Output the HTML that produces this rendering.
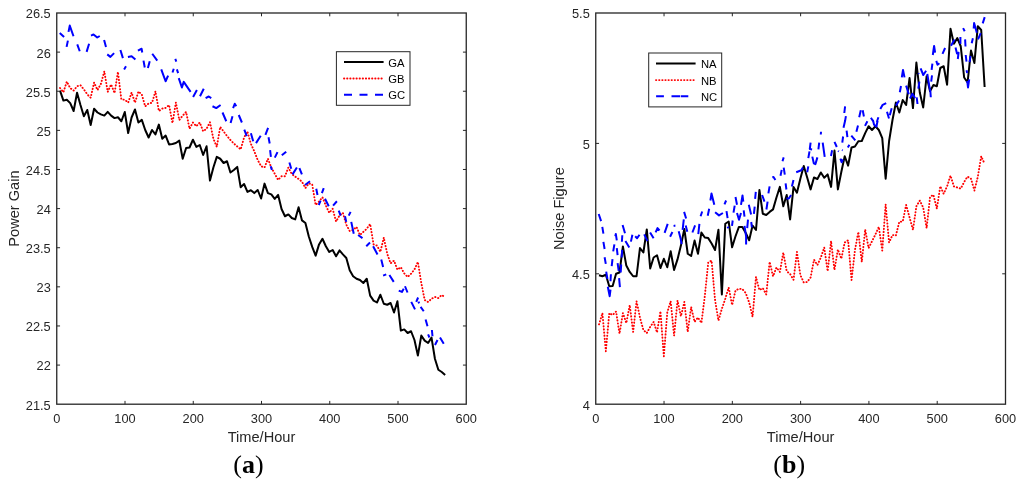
<!DOCTYPE html>
<html><head><meta charset="utf-8"><title>Figure</title>
<style>
html,body{margin:0;padding:0;background:#fff;}
svg{display:block}
.t{font-family:"Liberation Sans",Arial,sans-serif;font-size:12.8px;fill:#262626}
.l{font-family:"Liberation Sans",Arial,sans-serif;font-size:14.6px;fill:#262626}
.g{font-family:"Liberation Sans",Arial,sans-serif;font-size:11.25px;fill:#000}
.c{font-family:"Liberation Serif","DejaVu Serif",serif;font-size:26px;fill:#000}
</style></head><body>
<svg width="1024" height="485" viewBox="0 0 1024 485">
<rect width="1024" height="485" fill="#fff"/>
<path d="M60.01 90.60 L63.42 100.60 L66.82 99.75 L70.23 103.10 L73.64 111.00 L77.05 92.75 L80.46 105.00 L83.87 116.25 L87.27 110.00 L90.68 125.00 L94.09 108.75 L97.50 112.50 L100.91 114.40 L104.32 115.60 L107.72 111.90 L111.13 115.60 L114.54 118.10 L117.95 117.25 L121.36 121.25 L124.77 112.00 L128.17 133.10 L131.58 117.50 L134.99 109.50 L138.40 122.50 L141.81 119.90 L145.22 130.00 L148.62 137.50 L152.03 130.00 L155.44 134.40 L158.85 124.60 L162.26 138.75 L165.67 135.60 L169.07 144.40 L172.48 144.00 L175.89 143.00 L179.30 140.60 L182.71 158.75 L186.12 148.00 L189.52 147.50 L192.93 139.75 L196.34 146.90 L199.75 145.00 L203.16 155.00 L206.57 146.25 L209.97 180.60 L213.38 167.50 L216.79 156.90 L220.20 158.75 L223.61 163.00 L227.01 161.25 L230.42 172.50 L233.83 170.00 L237.24 166.90 L240.65 187.20 L244.06 184.00 L247.46 191.90 L250.87 190.25 L254.28 193.10 L257.69 190.00 L261.10 198.50 L264.51 183.60 L267.91 193.10 L271.32 194.40 L274.73 198.90 L278.14 194.90 L281.55 209.00 L284.96 216.25 L288.36 214.40 L291.77 218.00 L295.18 219.40 L298.59 207.25 L302.00 220.40 L305.41 223.00 L308.81 236.50 L312.22 246.90 L315.63 255.60 L319.04 244.40 L322.45 238.75 L325.86 246.25 L329.26 251.90 L332.67 250.00 L336.08 256.25 L339.49 250.40 L342.90 254.40 L346.31 258.00 L349.71 270.30 L353.12 276.25 L356.53 278.75 L359.94 280.00 L363.35 283.00 L366.76 278.75 L370.16 295.60 L373.57 300.60 L376.98 302.50 L380.39 294.75 L383.80 303.75 L387.21 304.75 L390.61 303.00 L394.02 312.50 L397.43 301.25 L400.84 330.60 L404.25 329.40 L407.65 333.00 L411.06 331.25 L414.47 340.00 L417.88 355.60 L421.29 335.60 L424.70 340.60 L428.10 343.00 L431.51 337.60 L434.92 358.75 L438.33 369.75 L441.74 372.00 L445.15 375.00" fill="none" stroke="#000" stroke-width="2" stroke-linejoin="round"/>
<path d="M60.01 88.00 L63.42 92.25 L66.82 81.60 L70.23 88.10 L73.64 90.60 L77.05 86.25 L80.46 85.25 L83.87 89.40 L87.27 94.40 L90.68 97.75 L94.09 82.50 L97.50 90.00 L100.91 83.75 L104.32 71.25 L107.72 91.90 L111.13 84.40 L114.54 93.10 L117.95 71.90 L121.36 99.40 L124.77 99.75 L128.17 102.60 L131.58 92.50 L134.99 102.60 L138.40 91.50 L141.81 94.40 L145.22 106.40 L148.62 103.50 L152.03 102.75 L155.44 91.25 L158.85 111.00 L162.26 108.60 L165.67 107.90 L169.07 105.00 L172.48 123.10 L175.89 102.50 L179.30 120.00 L182.71 115.60 L186.12 111.90 L189.52 128.75 L192.93 122.50 L196.34 126.25 L199.75 122.50 L203.16 131.25 L206.57 128.75 L209.97 122.25 L213.38 138.75 L216.79 146.90 L220.20 126.90 L223.61 131.50 L227.01 136.00 L230.42 140.00 L233.83 143.50 L237.24 146.50 L240.65 149.40 L244.06 137.50 L247.46 131.50 L250.87 143.75 L254.28 151.25 L257.69 160.00 L261.10 166.25 L264.51 167.50 L267.91 158.75 L271.32 167.50 L274.73 173.75 L278.14 179.90 L281.55 176.25 L284.96 176.25 L288.36 167.50 L291.77 174.00 L295.18 176.60 L298.59 179.00 L302.00 181.80 L305.41 188.10 L308.81 183.50 L312.22 184.40 L315.63 205.00 L319.04 201.50 L322.45 197.20 L325.86 205.60 L329.26 212.80 L332.67 208.75 L336.08 221.50 L339.49 215.60 L342.90 212.80 L346.31 224.70 L349.71 231.00 L353.12 230.00 L356.53 226.90 L359.94 235.00 L363.35 231.90 L366.76 228.75 L370.16 224.00 L373.57 244.40 L376.98 245.60 L380.39 251.90 L383.80 237.50 L387.21 253.75 L390.61 263.40 L394.02 260.60 L397.43 269.70 L400.84 267.20 L404.25 273.40 L407.65 277.00 L411.06 273.75 L414.47 269.40 L417.88 261.90 L421.29 283.00 L424.70 300.00 L428.10 302.00 L431.51 298.75 L434.92 296.90 L438.33 298.10 L441.74 295.00 L445.15 297.25" fill="none" stroke="#f00" stroke-width="1.9" stroke-dasharray="0.3 2.82" stroke-linecap="round" stroke-linejoin="round"/>
<path d="M59.75 32.90 L64.10 36.90 M66.60 46.90 L67.90 40.60 M68.50 31.90 L69.75 25.60 L73.50 36.25 M77.25 44.40 L79.75 51.25 M86.60 51.90 L89.10 43.75 M91.00 35.60 L93.50 34.40 L97.25 37.50 L99.75 36.00 M104.10 40.00 L106.00 46.90 M107.25 54.40 L110.40 56.90 L114.10 53.10 M120.40 50.00 L122.90 58.10 M124.10 69.40 L126.00 66.25 M127.90 56.90 L131.60 56.25 L135.40 59.40 M137.90 50.60 L141.60 48.75 L142.25 52.50 M143.50 60.60 L144.75 67.50 M147.90 68.10 L149.75 61.25 M152.25 53.75 L157.25 60.60 M161.25 69.40 L165.60 81.25 L168.10 75.60 M172.50 72.50 L173.75 68.75 M175.30 58.90 L176.30 61.60 M176.90 69.40 L178.10 73.10 M178.75 78.10 L181.90 87.50 L183.75 81.90 L190.60 91.90 M193.10 96.90 L196.90 90.00 M200.00 96.25 L203.75 88.75 M205.60 98.10 L208.75 96.50 L211.25 98.10 M212.50 106.25 L216.25 108.10 L220.60 105.00 M222.50 112.50 L226.25 121.25 M230.60 123.10 L232.50 116.25 M233.10 108.10 L234.75 103.75 L236.25 106.25 M238.75 115.00 L241.90 122.50 M244.30 129.60 L246.75 136.20 M250.90 133.30 L253.20 141.20 M256.00 143.10 L260.70 135.70 M265.40 134.90 L268.10 127.80 M268.50 137.20 L269.70 143.50 M270.10 150.20 L270.90 156.80 M270.70 166.25 L271.90 170.00 M274.80 157.60 L277.50 152.10 M281.80 155.30 L286.20 151.70 M289.40 162.50 L291.25 168.75 M292.50 174.40 L296.90 167.50 M299.40 168.10 L301.90 174.40 M305.00 185.00 L310.00 181.25 M316.25 188.75 L317.50 195.00 M318.75 205.00 L320.60 200.60 M321.90 193.10 L323.75 188.10 M325.00 198.75 L328.75 206.25 M333.10 205.60 L336.90 201.25 M338.75 210.60 L340.60 215.60 M345.00 216.25 L346.25 221.90 M348.75 215.60 L350.60 211.90 M351.25 221.90 L353.75 233.75 M358.10 235.00 L362.50 238.10 M366.25 246.25 L370.00 242.50 M373.10 246.25 L377.50 254.40 M381.25 259.40 L383.10 266.90 M383.10 275.60 L386.25 274.40 M389.40 275.00 L393.75 281.90 M398.75 290.60 L401.90 291.90 L403.75 288.75 M405.00 286.25 L407.50 292.50 M411.25 301.90 L415.00 309.40 M416.25 301.90 L418.10 297.50 M418.50 301.70 L419.10 303.30 M420.60 306.90 L423.75 311.25 M425.60 319.40 L427.50 326.25 M428.10 334.40 L429.40 337.50 M431.90 330.00 L432.50 336.25 M435.00 345.00 L437.50 340.00 M440.00 337.50 L443.75 343.75" fill="none" stroke="#00f" stroke-width="2" stroke-linejoin="round"/>
<rect x="56.75" y="13.00" width="409.50" height="391.20" fill="none" stroke="#262626" stroke-width="1.3"/>
<text x="56.75" y="423.00" text-anchor="middle" class="t">0</text>
<path d="M125.00 404.20 v-3.3 M125.00 13.00 v3.3" stroke="#262626" stroke-width="1"/>
<text x="125.00" y="423.00" text-anchor="middle" class="t">100</text>
<path d="M193.25 404.20 v-3.3 M193.25 13.00 v3.3" stroke="#262626" stroke-width="1"/>
<text x="193.25" y="423.00" text-anchor="middle" class="t">200</text>
<path d="M261.50 404.20 v-3.3 M261.50 13.00 v3.3" stroke="#262626" stroke-width="1"/>
<text x="261.50" y="423.00" text-anchor="middle" class="t">300</text>
<path d="M329.75 404.20 v-3.3 M329.75 13.00 v3.3" stroke="#262626" stroke-width="1"/>
<text x="329.75" y="423.00" text-anchor="middle" class="t">400</text>
<path d="M398.00 404.20 v-3.3 M398.00 13.00 v3.3" stroke="#262626" stroke-width="1"/>
<text x="398.00" y="423.00" text-anchor="middle" class="t">500</text>
<text x="466.25" y="423.00" text-anchor="middle" class="t">600</text>
<text x="50.75" y="18.40" text-anchor="end" class="t">26.5</text>
<path d="M56.75 52.12 h3.3 M466.25 52.12 h-3.3" stroke="#262626" stroke-width="1"/>
<text x="50.75" y="57.52" text-anchor="end" class="t">26</text>
<path d="M56.75 91.24 h3.3 M466.25 91.24 h-3.3" stroke="#262626" stroke-width="1"/>
<text x="50.75" y="96.64" text-anchor="end" class="t">25.5</text>
<path d="M56.75 130.36 h3.3 M466.25 130.36 h-3.3" stroke="#262626" stroke-width="1"/>
<text x="50.75" y="135.76" text-anchor="end" class="t">25</text>
<path d="M56.75 169.48 h3.3 M466.25 169.48 h-3.3" stroke="#262626" stroke-width="1"/>
<text x="50.75" y="174.88" text-anchor="end" class="t">24.5</text>
<path d="M56.75 208.60 h3.3 M466.25 208.60 h-3.3" stroke="#262626" stroke-width="1"/>
<text x="50.75" y="214.00" text-anchor="end" class="t">24</text>
<path d="M56.75 247.72 h3.3 M466.25 247.72 h-3.3" stroke="#262626" stroke-width="1"/>
<text x="50.75" y="253.12" text-anchor="end" class="t">23.5</text>
<path d="M56.75 286.84 h3.3 M466.25 286.84 h-3.3" stroke="#262626" stroke-width="1"/>
<text x="50.75" y="292.24" text-anchor="end" class="t">23</text>
<path d="M56.75 325.96 h3.3 M466.25 325.96 h-3.3" stroke="#262626" stroke-width="1"/>
<text x="50.75" y="331.36" text-anchor="end" class="t">22.5</text>
<path d="M56.75 365.08 h3.3 M466.25 365.08 h-3.3" stroke="#262626" stroke-width="1"/>
<text x="50.75" y="370.48" text-anchor="end" class="t">22</text>
<text x="50.75" y="409.60" text-anchor="end" class="t">21.5</text>
<text x="261.50" y="441.60" text-anchor="middle" class="l">Time/Hour</text>
<text transform="translate(18.60 208.60) rotate(-90)" text-anchor="middle" class="l">Power Gain</text>
<text x="248.50" y="473.4" text-anchor="middle" class="c">(<tspan font-weight="bold">a</tspan>)</text>
<rect x="336.40" y="51.70" width="73.60" height="53.60" fill="#fff" stroke="#262626" stroke-width="1"/>
<path d="M344.00 62.10 H383.60" fill="none" stroke="#000" stroke-width="2" stroke-linejoin="round"/>
<text x="388.30" y="66.60" class="g">GA</text>
<path d="M344.00 78.50 H383.60" fill="none" stroke="#f00" stroke-width="1.9" stroke-dasharray="0.3 2.82" stroke-linecap="round" stroke-linejoin="round"/>
<text x="388.30" y="83.00" class="g">GB</text>
<path d="M344.00 94.80 H383.60" fill="none" stroke="#00f" stroke-width="2" stroke-dasharray="8 7.5" stroke-linejoin="round"/>
<text x="388.30" y="99.30" class="g">GC</text>
<path d="M599.01 275.25 L602.43 276.25 L605.84 274.75 L609.25 286.25 L612.66 286.00 L616.08 273.75 L619.49 272.50 L622.90 246.50 L626.31 265.60 L629.73 271.90 L633.14 276.25 L636.55 276.25 L639.96 248.10 L643.38 252.50 L646.79 229.40 L650.20 268.50 L653.61 257.50 L657.02 255.25 L660.44 268.10 L663.85 258.75 L667.26 267.25 L670.68 251.25 L674.09 270.00 L677.50 259.40 L680.91 245.60 L684.33 229.00 L687.74 253.75 L691.15 256.00 L694.56 240.60 L697.98 253.75 L701.39 232.60 L704.80 237.50 L708.21 238.10 L711.62 243.50 L715.04 250.00 L718.45 229.75 L721.86 294.40 L725.28 223.75 L728.69 221.50 L732.10 247.25 L735.51 236.25 L738.93 226.90 L742.34 226.90 L745.75 233.00 L749.16 240.25 L752.58 225.60 L755.99 230.00 L759.40 190.00 L762.81 213.75 L766.23 215.00 L769.64 211.90 L773.05 209.40 L776.46 197.50 L779.88 186.90 L783.29 206.25 L786.70 195.00 L790.11 219.40 L793.53 186.90 L796.94 192.75 L800.35 178.75 L803.76 166.00 L807.18 177.50 L810.59 189.40 L814.00 177.50 L817.41 179.00 L820.83 172.50 L824.24 177.75 L827.65 174.40 L831.06 186.90 L834.48 150.60 L837.89 189.40 L841.30 172.00 L844.71 156.25 L848.12 165.60 L851.54 147.50 L854.95 146.50 L858.36 141.25 L861.78 141.00 L865.19 133.10 L868.60 126.25 L872.01 130.00 L875.42 126.25 L878.84 130.00 L882.25 138.10 L885.66 178.75 L889.08 141.25 L892.49 120.00 L895.90 102.50 L899.31 112.50 L902.73 100.00 L906.14 105.00 L909.55 78.10 L912.96 108.10 L916.38 62.50 L919.79 92.50 L923.20 107.50 L926.61 76.25 L930.03 91.25 L933.44 85.00 L936.85 86.25 L940.26 68.00 L943.67 66.25 L947.09 84.75 L950.50 28.75 L953.91 43.75 L957.33 38.10 L960.74 46.25 L964.15 77.50 L967.56 82.50 L970.98 50.60 L974.39 63.10 L977.80 26.25 L981.21 30.00 L984.62 87.00" fill="none" stroke="#000" stroke-width="2" stroke-linejoin="round"/>
<path d="M599.01 324.40 L602.43 313.10 L605.84 351.25 L609.25 313.10 L612.66 315.00 L616.08 311.50 L619.49 333.75 L622.90 313.10 L626.31 323.10 L629.73 305.00 L633.14 331.90 L636.55 301.25 L639.96 317.50 L643.38 330.00 L646.79 333.10 L650.20 326.90 L653.61 321.90 L657.02 332.50 L660.44 311.25 L663.85 356.25 L667.26 312.50 L670.68 301.25 L674.09 335.60 L677.50 300.60 L680.91 316.25 L684.33 301.90 L687.74 331.90 L691.15 306.90 L694.56 321.90 L697.98 317.50 L701.39 323.00 L704.80 296.00 L708.21 262.50 L711.62 260.60 L715.04 300.00 L718.45 320.60 L721.86 308.75 L725.28 298.75 L728.69 287.50 L732.10 305.00 L735.51 290.60 L738.93 288.75 L742.34 289.00 L745.75 293.10 L749.16 302.50 L752.58 316.90 L755.99 276.90 L759.40 290.00 L762.81 288.10 L766.23 294.40 L769.64 261.90 L773.05 276.25 L776.46 267.50 L779.88 271.90 L783.29 252.50 L786.70 271.25 L790.11 274.00 L793.53 279.75 L796.94 251.90 L800.35 275.00 L803.76 282.50 L807.18 282.00 L810.59 277.50 L814.00 259.75 L817.41 265.00 L820.83 257.50 L824.24 247.50 L827.65 271.25 L831.06 241.00 L834.48 270.00 L837.89 249.40 L841.30 258.75 L844.71 242.50 L848.12 240.25 L851.54 280.00 L854.95 250.00 L858.36 231.90 L861.78 261.90 L865.19 229.40 L868.60 248.10 L872.01 241.25 L875.42 234.40 L878.84 226.90 L882.25 250.60 L885.66 204.40 L889.08 242.50 L892.49 235.00 L895.90 235.60 L899.31 221.70 L902.73 221.50 L906.14 205.00 L909.55 217.50 L912.96 230.00 L916.38 206.25 L919.79 200.60 L923.20 207.50 L926.61 228.10 L930.03 196.90 L933.44 194.75 L936.85 208.75 L940.26 186.25 L943.67 193.75 L947.09 186.25 L950.50 175.60 L953.91 186.40 L957.33 187.50 L960.74 188.60 L964.15 182.00 L967.56 176.60 L970.98 178.75 L974.39 190.60 L977.80 176.90 L981.21 156.25 L984.62 163.75" fill="none" stroke="#f00" stroke-width="1.9" stroke-dasharray="0.3 2.82" stroke-linecap="round" stroke-linejoin="round"/>
<path d="M598.70 214.00 L601.10 221.10 M602.30 226.90 L603.40 233.60 M603.40 241.80 L604.60 249.00 M604.60 257.20 L605.80 263.90 M606.20 271.70 L607.40 279.00 M607.80 286.80 L609.70 296.20 L610.50 289.60 M610.50 281.30 L610.90 274.30 M611.70 266.20 L612.50 259.20 M613.20 251.30 L614.40 244.30 M615.30 236.20 L615.80 233.90 L616.80 240.30 M616.80 248.20 L617.60 255.20 M617.60 263.10 L618.70 270.90 M619.10 278.20 L619.90 287.20 M620.70 272.50 L621.20 264.50 M621.60 257.50 L622.20 249.80 M621.90 241.80 L622.30 235.20 M622.60 225.00 L625.00 233.20 M625.40 241.00 L629.30 247.40 M630.90 241.60 L632.40 234.80 M635.20 236.30 L637.10 238.30 L639.50 234.80 M644.20 234.40 L647.50 241.10 M650.10 232.40 L653.60 238.30 M655.60 232.40 L657.50 228.10 L659.50 230.50 M664.60 232.80 L667.70 223.80 M670.10 236.70 L672.40 232.00 M673.60 225.90 L675.40 225.60 M678.70 231.30 L680.60 238.40 L681.60 244.20 M682.60 229.80 L683.80 219.40 M684.10 211.90 L686.10 218.50 M685.70 225.40 L687.30 231.70 M692.40 232.50 L695.10 225.40 M698.30 234.10 L699.40 223.90 M700.60 216.20 L702.20 211.50 M707.70 215.80 L709.20 208.70 M710.40 200.50 L711.50 193.50 L714.30 204.80 M715.10 212.30 L719.00 215.40 L722.90 213.00 M724.50 204.40 L726.10 200.50 M726.50 211.10 L727.60 218.10 M727.60 226.60 L728.40 228.20 M732.00 225.80 L732.70 220.50 M733.50 212.60 L734.70 205.60 M735.50 197.00 L737.00 204.80 M737.00 213.00 L739.00 219.70 L741.00 213.00 M741.00 204.80 L742.50 195.40 L743.30 201.70 M743.70 210.30 L744.50 216.60 M744.50 225.80 L746.10 236.40 L746.10 244.60 M747.20 228.20 L748.00 219.70 M748.80 204.80 L751.10 214.60 M751.20 222.00 L751.90 227.40 M753.90 213.80 L754.70 206.70 M755.10 198.90 L755.80 191.80 M762.10 195.00 L764.50 201.60 M766.40 209.50 L767.60 201.60 M768.40 193.40 L769.60 186.40 M772.30 177.40 L773.50 177.00 L775.40 180.10 M780.50 175.80 L781.70 169.90 M782.50 161.30 L783.70 157.40 M783.70 167.60 L784.80 174.60 M785.60 183.30 L786.40 189.50 M786.40 198.50 L788.80 198.50 L791.10 195.00 M791.90 186.40 L793.50 180.10 M796.20 172.30 L801.30 170.30 L802.90 167.60 M807.20 172.30 L808.30 166.40 M808.30 158.20 L809.50 151.40 M812.10 149.40 L809.80 149.00 L810.60 142.70 M812.30 156.60 L813.80 163.30 L815.40 164.10 L817.40 157.40 M818.40 149.40 L819.20 142.70 M820.80 134.50 L821.00 131.80 M822.70 142.70 L824.70 156.80 M831.00 156.00 L832.10 150.20 M834.50 141.90 L836.80 147.00 M838.10 151.00 L838.80 151.60 M842.00 150.00 L842.70 150.40 M840.40 158.60 L841.60 162.30 L842.90 159.50 M842.30 142.70 L843.10 136.50 M843.50 127.80 L845.10 120.80 L845.90 116.10 M844.30 113.00 L845.10 106.30 M846.60 130.60 L847.40 137.20 M847.80 147.40 L849.40 144.70 M851.30 135.70 L855.30 140.40 M856.40 131.80 L858.00 125.50 M859.20 117.30 L860.80 110.30 M862.70 110.30 L863.90 116.50 M865.00 125.90 L867.40 121.20 M870.90 117.70 L873.30 121.60 M872.90 120.00 L874.10 124.70 L876.40 126.70 L877.60 120.80 M876.80 122.00 L878.40 117.30 M880.30 109.10 L882.70 104.80 L886.20 103.20 M887.00 111.80 L889.00 118.50 M889.80 115.30 L891.70 108.30 M895.90 105.60 L899.10 100.50 M899.80 92.20 L901.00 86.00 M901.80 77.40 L903.00 69.90 L904.50 77.40 M906.10 85.60 L908.80 94.20 M910.00 98.50 L912.40 93.80 L915.00 98.00 M916.70 97.30 L917.50 104.00 M918.30 88.70 L919.40 81.70 M918.40 73.20 L918.90 74.00 M920.60 68.40 L923.30 75.00 L926.10 70.70 M927.30 73.90 L929.20 85.60 L930.40 91.80 L930.80 97.30 M931.20 81.70 L932.00 75.40 M931.60 69.90 L932.40 63.70 M932.80 55.00 L934.10 46.00 L935.10 52.70 M936.30 60.90 L937.50 64.80 L939.40 63.30 M942.50 53.90 L945.10 48.00 M951.00 45.70 L954.50 39.40 M955.50 47.50 L957.00 53.50 L958.60 52.70 L957.80 59.00 M960.40 44.10 L960.40 37.10 M963.10 28.10 L964.70 31.20 M965.10 39.40 L965.50 46.50 M965.70 55.00 L966.50 61.70 M966.50 70.30 L967.20 73.10 M967.20 80.90 L968.00 87.50 L969.20 79.30 M969.60 62.10 L970.40 55.80 M971.70 43.30 L972.90 38.30 M973.70 28.50 L974.10 23.00 L974.90 25.70 L976.80 32.80 M978.00 39.40 L980.70 33.20 M982.70 23.40 L984.70 17.10" fill="none" stroke="#00f" stroke-width="2" stroke-linejoin="round"/>
<rect x="595.75" y="13.00" width="409.75" height="391.20" fill="none" stroke="#262626" stroke-width="1.3"/>
<text x="595.75" y="423.00" text-anchor="middle" class="t">0</text>
<path d="M664.04 404.20 v-3.3 M664.04 13.00 v3.3" stroke="#262626" stroke-width="1"/>
<text x="664.04" y="423.00" text-anchor="middle" class="t">100</text>
<path d="M732.33 404.20 v-3.3 M732.33 13.00 v3.3" stroke="#262626" stroke-width="1"/>
<text x="732.33" y="423.00" text-anchor="middle" class="t">200</text>
<path d="M800.62 404.20 v-3.3 M800.62 13.00 v3.3" stroke="#262626" stroke-width="1"/>
<text x="800.62" y="423.00" text-anchor="middle" class="t">300</text>
<path d="M868.92 404.20 v-3.3 M868.92 13.00 v3.3" stroke="#262626" stroke-width="1"/>
<text x="868.92" y="423.00" text-anchor="middle" class="t">400</text>
<path d="M937.21 404.20 v-3.3 M937.21 13.00 v3.3" stroke="#262626" stroke-width="1"/>
<text x="937.21" y="423.00" text-anchor="middle" class="t">500</text>
<text x="1005.50" y="423.00" text-anchor="middle" class="t">600</text>
<text x="589.75" y="18.40" text-anchor="end" class="t">5.5</text>
<path d="M595.75 143.40 h3.3 M1005.50 143.40 h-3.3" stroke="#262626" stroke-width="1"/>
<text x="589.75" y="148.80" text-anchor="end" class="t">5</text>
<path d="M595.75 273.80 h3.3 M1005.50 273.80 h-3.3" stroke="#262626" stroke-width="1"/>
<text x="589.75" y="279.20" text-anchor="end" class="t">4.5</text>
<text x="589.75" y="409.60" text-anchor="end" class="t">4</text>
<text x="800.62" y="441.60" text-anchor="middle" class="l">Time/Hour</text>
<text transform="translate(563.60 208.60) rotate(-90)" text-anchor="middle" class="l">Noise Figure</text>
<text x="789.20" y="473.4" text-anchor="middle" class="c">(<tspan font-weight="bold">b</tspan>)</text>
<rect x="648.70" y="53.00" width="73.00" height="53.90" fill="#fff" stroke="#262626" stroke-width="1"/>
<path d="M656.00 63.50 H695.60" fill="none" stroke="#000" stroke-width="2" stroke-linejoin="round"/>
<text x="701.00" y="68.00" class="g">NA</text>
<path d="M656.00 80.10 H695.60" fill="none" stroke="#f00" stroke-width="1.9" stroke-dasharray="0.3 2.82" stroke-linecap="round" stroke-linejoin="round"/>
<text x="701.00" y="84.60" class="g">NB</text>
<path d="M656.1 96.20 H663.9 M671.5 96.20 H680.2 M680.9 96.20 H688.3" fill="none" stroke="#00f" stroke-width="2" stroke-linejoin="round"/>
<text x="701.00" y="100.70" class="g">NC</text>
</svg>
</body></html>
